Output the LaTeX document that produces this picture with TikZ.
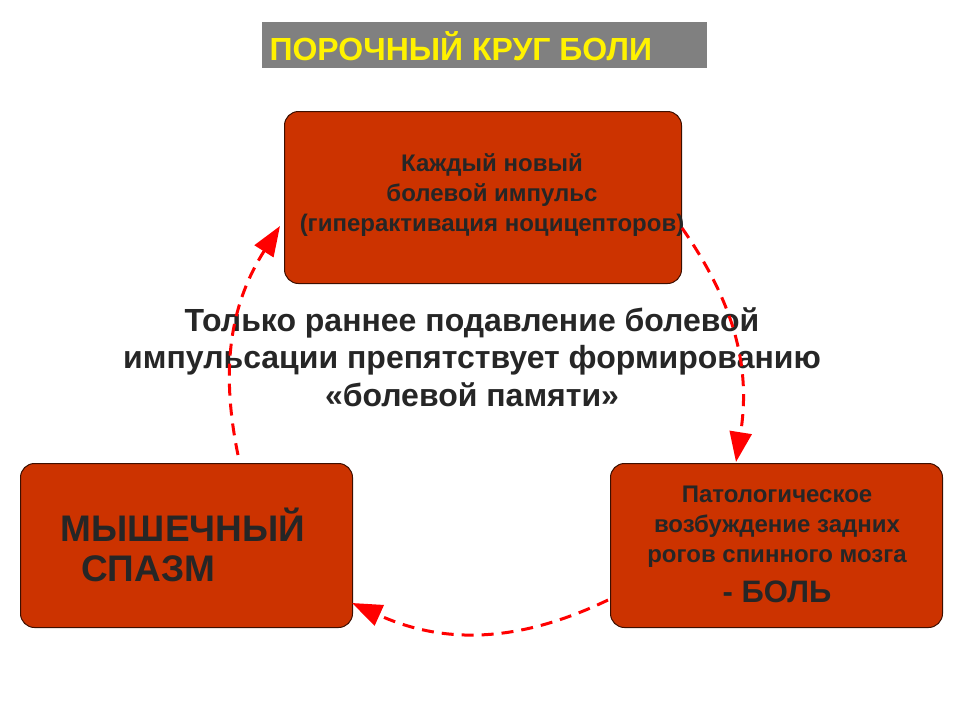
\documentclass[tikz,border=0pt]{standalone}
\usepackage{fontspec}
\setmainfont{Liberation Sans}
\usetikzlibrary{arrows.meta}
\definecolor{boxred}{HTML}{CC3300}
\definecolor{titlegray}{HTML}{808080}
\tikzset{
  bigbox/.style={draw=black!70!boxred, line width=1pt, fill=boxred, rounded corners=14pt, anchor=north west},
  loop/.style={draw=red, line width=3pt, dash pattern=on 12pt off 8pt, -{Triangle[length=30pt,width=22pt]}}
}
\begin{document}
\begin{tikzpicture}[x=1pt,y=-1pt]
  \useasboundingbox (0,0) rectangle (960,720);
  % title
  \node[fill=titlegray, minimum width=445pt, minimum height=46pt, anchor=north west, inner sep=0pt] (title) at (262,22) {};
  \node[anchor=west, text=yellow, font=\bfseries\fontsize{32}{36}\selectfont] (titletext) at (266,46) {ПОРОЧНЫЙ КРУГ БОЛИ};
  % boxes
  \node[bigbox, minimum width=397pt, minimum height=172pt] (top) at (284,111) {};
  \node[bigbox, minimum width=332pt, minimum height=164pt] (left) at (20,463) {};
  \node[bigbox, minimum width=332pt, minimum height=164pt] (right) at (610,463) {};
  \node[align=center, font=\bfseries\fontsize{24}{30}\selectfont, text=black!85] (toptext) at (492,195) {Каждый новый\\болевой импульс\\(гиперактивация ноцицепторов)};
  \node[align=left, font=\bfseries\fontsize{37}{40}\selectfont, text=black!85] (lefttext) at (183,545) {МЫШЕЧНЫЙ\\\hspace{0.55em}СПАЗМ};
  \node[align=center, font=\bfseries\fontsize{24}{30}\selectfont, text=black!85] (righttext) at (777,527) {Патологическое\\возбуждение задних\\рогов спинного мозга};
  \node[font=\bfseries\fontsize{31}{34}\selectfont, text=black!85] (pain) at (777,592) {- БОЛЬ};
  % centre text
  \node[align=center, font=\bfseries\fontsize{32}{37.5}\selectfont, text=black!85] (note) at (472,357) {Только раннее подавление болевой\\импульсации препятствует формированию\\«болевой памяти»};
  % arrows
  \coordinate (a1) at (238,455);
  \coordinate (a2) at (280,226);
  \coordinate (b1) at (682,228);
  \coordinate (b2) at (736,462);
  \coordinate (c1) at (608,600);
  \coordinate (c2) at (352,603);
  \draw[loop] (a1) to[bend left=22] (a2);
  \draw[loop] (b1) to[bend left=22] (b2);
  \draw[loop] (c1) to[bend left=25] (c2);
\end{tikzpicture}
\end{document}
